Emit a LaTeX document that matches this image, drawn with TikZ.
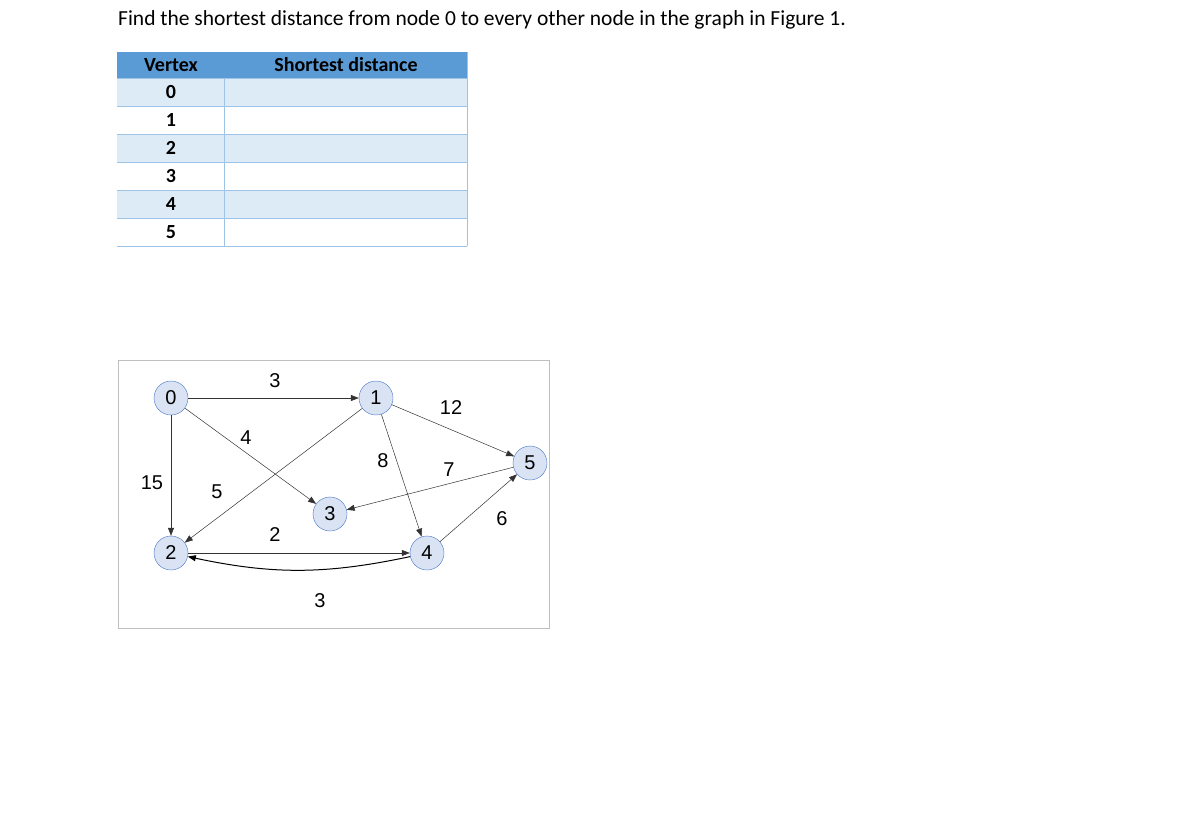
\documentclass[tikz,border=0pt]{standalone}
\usepackage{fontspec}
\setmainfont{Carlito}
\newfontfamily\arialf{Liberation Sans}
\usetikzlibrary{arrows.meta}
\definecolor{hdr}{HTML}{5B9BD5}
\definecolor{rowb}{HTML}{DDEBF7}
\definecolor{lineb}{HTML}{9DC3E6}
\definecolor{nodef}{HTML}{DAE3F3}
\definecolor{noded}{HTML}{4472C4}
\begin{document}
\begin{tikzpicture}[x=1pt,y=-1pt,
  vtx/.style={circle,draw=noded,fill=nodef,minimum size=34pt,inner sep=0pt,font=\arialf\fontsize{20}{20}\selectfont},
  edge/.style={draw=black!80,line width=0.5pt,-{Triangle[length=8pt,width=6pt]}},
  wl/.style={font=\arialf\fontsize{20}{20}\selectfont},
  cell/.style={font=\bfseries\fontsize{20}{20}\selectfont}]
\useasboundingbox (0,0) rectangle (1188,838);
\node[anchor=west,inner sep=0pt,font=\fontsize{21.5}{21.5}\selectfont] (title) at (118,20) {Find the shortest distance from node 0 to every other node in the graph in Figure 1.};
% table
\fill[hdr] (117,52) rectangle (467,78);
\foreach \i in {0,2,4} \fill[rowb] (117,78+\i*28) rectangle (467,106+\i*28);
\foreach \i in {0,...,6} \draw[lineb] (117,78+\i*28) -- (467,78+\i*28);
\draw[lineb] (224,78) -- (224,246);
\draw[lineb] (467,52) -- (467,246);
\node[cell] (hv) at (171,65) {Vertex};
\node[cell] (hs) at (346,65) {Shortest distance};
\foreach \i in {0,...,5} \node[cell] (r\i) at (171,92+\i*28) {\i};
% graph frame
\draw[black!25] (118,360) rectangle (549,628);
\node[vtx] (n0) at (171,398) {0};
\node[vtx] (n1) at (376,398) {1};
\node[vtx] (n2) at (171,553) {2};
\node[vtx] (n3) at (330,514) {3};
\node[vtx] (n4) at (427,553) {4};
\node[vtx] (n5) at (530,463) {5};
\draw[edge] (n0) -- (n1);
\draw[edge] (n0) -- (n3);
\draw[edge] (n0) -- (n2);
\draw[edge] (n1) -- (n2);
\draw[edge] (n1) -- (n4);
\draw[edge] (n1) -- (n5);
\draw[edge] (n5) -- (n3);
\draw[edge] (n4) -- (n5);
\draw[edge] (n2) -- (n4);
\draw[edge,line width=1pt,draw=black] (n4) to[bend left=12] (n2);
\node[wl] (l01) at (275,381) {3};
\node[wl] (l03) at (246,438) {4};
\node[wl] (l02) at (152,483) {15};
\node[wl] (l12) at (217,492) {5};
\node[wl] (l14) at (383,461) {8};
\node[wl] (l15) at (451,408) {12};
\node[wl] (l53) at (449,470) {7};
\node[wl] (l45) at (502,519) {6};
\node[wl] (l24) at (275,535) {2};
\node[wl] (l42) at (320,601) {3};
\end{tikzpicture}
\end{document}
